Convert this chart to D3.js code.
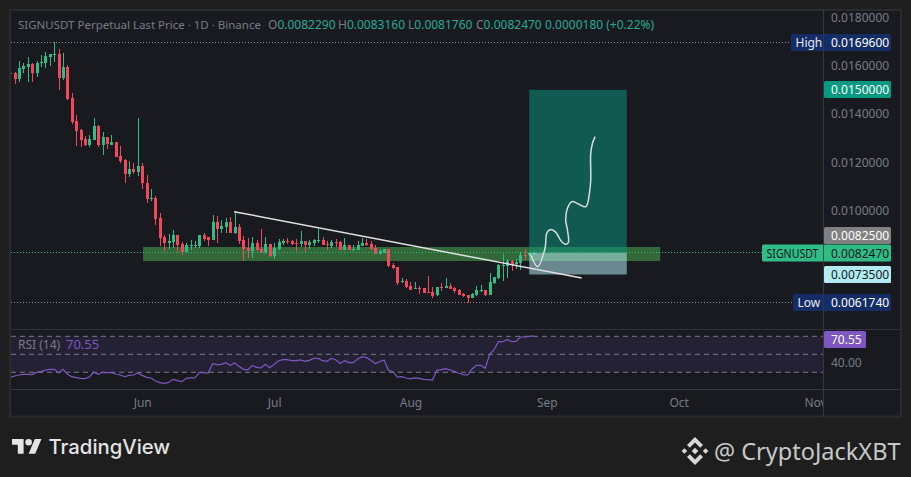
<!DOCTYPE html>
<html lang="en">
  <head>
    <meta charset="UTF-8" />
    <title>SIGNUSDT Perpetual</title>
    <style>
      html, body { margin: 0; padding: 0; background: #1e1e1e; overflow: hidden; }
      svg { display: block; }
      text { font-family: "Noto Sans", sans-serif; }
    </style>
    <script src="https://d3js.org/d3.v7.min.js"></script>
  </head>
  <body>
    <div id="chart"></div>
    <script>
      // Daily candles, first one is May 2
      const firstDay = new Date(2025, 4, 2);
      const opens = [0.015632,0.015706,0.015458,0.015847,0.015942,0.016079,0.015694,0.016108,0.016108,0.016356,0.016439,0.016481,0.015487,0.015942,0.014659,0.013707,0.013334,0.012961,0.012713,0.012920,0.013500,0.012713,0.013044,0.012713,0.012837,0.012257,0.012091,0.011511,0.011718,0.011594,
        0.011843,0.011139,0.010476,0.010518,0.009690,0.008903,0.008655,0.008696,0.008986,0.008613,0.008281,0.008530,0.008530,0.008530,0.008986,0.008903,0.008779,0.009524,0.009235,0.009317,0.009524,0.009069,0.009317,0.008779,0.008447,0.008323,0.008655,0.008406,0.008281,0.008613,
        0.008116,0.008406,0.008655,0.008738,0.008738,0.008655,0.008613,0.008738,0.008572,0.008655,0.008738,0.008779,0.008613,0.008530,0.008696,0.008696,0.008364,0.008572,0.008364,0.008364,0.008530,0.008655,0.008613,0.008447,0.008199,0.008240,0.008406,0.007743,0.007660,0.007039,
        0.007081,0.006874,0.006750,0.006791,0.006791,0.006625,0.006625,0.006501,0.006833,0.006791,0.006874,0.006791,0.006708,0.006543,0.006501,0.006377,0.006501,0.006667,0.006708,0.006501,0.006998,0.007205,0.007702,0.007702,0.007909,0.007785,0.007826,0.008157,0.008157,0.008229];
      const highs = [0.015777,0.015748,0.016191,0.016120,0.016356,0.016120,0.016191,0.016439,0.016563,0.016481,0.016978,0.016688,0.016522,0.016025,0.014866,0.013955,0.013375,0.013086,0.013127,0.013831,0.013541,0.013251,0.013044,0.013127,0.012837,0.012672,0.012132,0.012050,0.011967,0.013831,
        0.011967,0.011470,0.010890,0.010601,0.009897,0.008986,0.009027,0.009193,0.008986,0.008696,0.008655,0.008779,0.008738,0.008986,0.009069,0.008903,0.009814,0.009772,0.009607,0.009690,0.009731,0.009980,0.009441,0.008944,0.008862,0.008903,0.008779,0.009235,0.008903,0.008613,
        0.008655,0.008820,0.008820,0.008862,0.008779,0.008820,0.009152,0.008738,0.008779,0.008820,0.009235,0.008903,0.008738,0.008779,0.008820,0.008738,0.008862,0.008572,0.008572,0.008738,0.008862,0.008820,0.008738,0.008572,0.008406,0.008406,0.008406,0.007826,0.007660,0.007205,
        0.007163,0.007039,0.007039,0.006874,0.006791,0.007287,0.006833,0.006833,0.006998,0.007205,0.006998,0.006833,0.006750,0.006584,0.006501,0.006584,0.006874,0.006915,0.006708,0.007412,0.007246,0.007785,0.008199,0.007992,0.007950,0.007992,0.008281,0.008406,0.008281,0.008316];
      const lows = [0.015487,0.015238,0.015321,0.015694,0.015321,0.015321,0.015528,0.015942,0.015901,0.015984,0.016149,0.014990,0.015404,0.014576,0.013582,0.012672,0.012630,0.012672,0.012630,0.012920,0.012630,0.012298,0.012547,0.012713,0.012215,0.011967,0.011139,0.011387,0.011511,0.011429,
        0.010890,0.010311,0.010394,0.009400,0.008530,0.008323,0.008406,0.008447,0.008281,0.008157,0.008281,0.008364,0.008447,0.008447,0.008738,0.008530,0.008779,0.008655,0.009069,0.009069,0.009069,0.009027,0.008613,0.007909,0.008033,0.008033,0.008323,0.008240,0.008199,0.008074,
        0.007992,0.008364,0.008572,0.008613,0.008572,0.008323,0.008489,0.008281,0.008406,0.008530,0.008655,0.008572,0.008364,0.008447,0.008489,0.008364,0.008364,0.008364,0.008323,0.008364,0.008530,0.008530,0.008364,0.008199,0.008199,0.008240,0.007660,0.007577,0.006915,0.006998,
        0.006791,0.006708,0.006750,0.006543,0.006584,0.006584,0.006377,0.006460,0.006667,0.006791,0.006750,0.006584,0.006501,0.006418,0.006174,0.006377,0.006460,0.006625,0.006460,0.006501,0.006957,0.007163,0.007081,0.007205,0.007495,0.007577,0.007536,0.007950,0.008116,0.008176];
      const closes = [0.015673,0.015445,0.015901,0.015984,0.016079,0.015694,0.016108,0.016137,0.016398,0.016481,0.016481,0.015487,0.015942,0.014617,0.013665,0.013293,0.012920,0.012713,0.012961,0.013500,0.012713,0.013044,0.012754,0.012837,0.012215,0.012050,0.011511,0.011718,0.011594,0.011843,
        0.011139,0.010476,0.010518,0.009648,0.008862,0.008655,0.008738,0.008986,0.008572,0.008281,0.008572,0.008572,0.008572,0.008986,0.008820,0.008779,0.009524,0.009235,0.009359,0.009524,0.009069,0.009317,0.008738,0.008406,0.008323,0.008655,0.008364,0.008281,0.008613,0.008116,
        0.008447,0.008696,0.008738,0.008696,0.008613,0.008634,0.008738,0.008572,0.008696,0.008779,0.008779,0.008572,0.008584,0.008696,0.008655,0.008364,0.008572,0.008364,0.008406,0.008572,0.008655,0.008572,0.008406,0.008199,0.008323,0.008406,0.007702,0.007619,0.006998,0.007081,
        0.006833,0.006708,0.006791,0.006750,0.006584,0.006605,0.006460,0.006833,0.006791,0.006874,0.006750,0.006667,0.006501,0.006460,0.006377,0.006543,0.006708,0.006708,0.006501,0.007039,0.007246,0.007743,0.007743,0.007909,0.007743,0.007867,0.008157,0.008145,0.008229,0.008247];
      const rsiValues = [24.4,25.9,27.0,27.7,27.7,27.4,30.0,30.7,32.6,33.3,33.3,29.6,33.3,27.7,25.1,24.0,23.3,22.9,25.1,30.0,27.7,30.0,29.6,29.6,28.1,27.0,25.1,26.6,27.0,29.2,
        26.6,24.4,23.7,20.3,18.5,17.7,18.8,22.2,20.7,19.6,23.3,23.7,23.7,30.0,29.6,29.2,39.6,38.5,38.8,40.7,37.7,40.3,36.6,33.3,32.6,37.4,35.5,34.8,38.8,35.1,
        38.8,42.9,44.0,44.0,42.9,42.9,43.7,42.2,43.3,45.5,45.5,42.9,42.2,45.5,44.0,40.0,42.9,40.7,40.7,44.8,47.4,46.3,43.3,39.6,41.8,43.7,32.2,30.7,24.8,25.1,
        23.7,22.6,23.7,23.3,22.2,21.8,21.4,32.2,32.9,34.0,32.6,30.7,28.9,27.4,27.0,33.7,37.7,37.7,34.4,50.0,54.8,64.0,64.0,66.3,64.0,64.4,69.2,69.2,70.0,70.55];

      // Axis ticks
      const priceTicks = [0.018, 0.016, 0.014, 0.012, 0.01];
      const monthTicks = [new Date(2025, 5, 1), new Date(2025, 6, 1), new Date(2025, 7, 1), new Date(2025, 8, 1), new Date(2025, 9, 1), new Date(2025, 10, 1)];
      const rsiBands = [70, 50, 30];

      // Price levels
      const lastPrice = 0.008247, highPrice = 0.01696, lowPrice = 0.006174;
      const target = 0.015, entry = 0.00825, stop = 0.00735;
      const rsiLast = 70.55;

      // Drawings, x given in days after firstDay
      const zoneDays = [30.2, 147.8], zonePrices = [0.008489, 0.007909];
      const boxDays = [118, 140.2];
      const trendDays = [50.9, 129.95], trendPrices = [0.009951, 0.007205];
      const pathDays = [118.4,119.9,121.6,122.0,122.7,123.9,125.4,126.2,126.9,126.7,126.3,126.7,127.7,129.2,130.9,131.7,132.0,132.0,132.4,133.0];
      const pathPrices = [0.008157,0.007673,0.008434,0.009056,0.009205,0.009123,0.008709,0.008601,0.008667,0.009193,0.009607,0.010091,0.010365,0.010269,0.010158,0.010712,0.011263,0.012368,0.012783,0.013057];

      const legendTitle = "SIGNUSDT Perpetual Last Price · 1D · Binance";
      const legendOhlc = [
        ["O", "0.0082290", 268],
        ["H", "0.0083160", 338],
        ["L", "0.0081760", 408],
        ["C", "0.0082470", 476],
      ];

      const width = 911, height = 477;
      const plotLeft = 11, plotRight = 823, plotTop = 10, paneY = 329.5, timeY = 389.5, frameRight = 901, frameBottom = 416.5;
      const upColor = "#2ebd85", downColor = "#f6465d", gray = "#787b86", navy = "#142d66", purple = "#7e57c2";

      const x = d3.scaleTime().domain([firstDay, new Date(2025, 10, 1)]).range([10.3, 815]);
      const y = d3.scaleLinear().domain([0.018, 0.01]).range([17.3, 210.5]);
      const yRsi = d3.scaleLinear().domain([30, 70]).range([372.3, 336.3]);
      const xDay = (d) => x(new Date(firstDay.getTime() + d * 864e5));

      const svg = d3.select("#chart").append("svg").attr("width", width).attr("height", height);

      // frame and panes
      svg.append("rect").attr("x", 10).attr("y", 10).attr("width", frameRight - 10).attr("height", frameBottom - 10)
        .attr("fill", "#181a20").attr("stroke", "#2a2b2e").attr("stroke-width", 2);

      const defs = svg.append("defs");
      defs.append("clipPath").attr("id", "main").append("rect").attr("x", plotLeft).attr("y", plotTop).attr("width", plotRight - plotLeft).attr("height", paneY - plotTop);
      defs.append("clipPath").attr("id", "rsi").append("rect").attr("x", plotLeft).attr("y", paneY).attr("width", plotRight - plotLeft).attr("height", timeY - paneY);
      defs.append("clipPath").attr("id", "time").append("rect").attr("x", plotLeft).attr("y", timeY).attr("width", plotRight - plotLeft).attr("height", frameBottom - timeY);

      const main = svg.append("g").attr("clip-path", "url(#main)");

      // support zone sits under the candles
      main.append("rect")
        .attr("x", xDay(zoneDays[0])).attr("width", xDay(zoneDays[1]) - xDay(zoneDays[0]))
        .attr("y", y(zonePrices[0])).attr("height", y(zonePrices[1]) - y(zonePrices[0]))
        .attr("fill", "#4caf50").attr("fill-opacity", 0.53);

      // dotted high / low lines
      [[highPrice, 790], [lowPrice, 793]].forEach(([p, end]) => {
        main.append("line").attr("x1", plotLeft).attr("x2", end).attr("y1", Math.floor(y(p)) + 0.5).attr("y2", Math.floor(y(p)) + 0.5)
          .attr("stroke", "#8a8d96").attr("stroke-dasharray", "1 2");
      });

      // candles
      const candles = d3.range(opens.length);
      const candle = main.append("g").attr("shape-rendering", "crispEdges").selectAll("g").data(candles).join("g")
        .attr("fill", (i) => (closes[i] >= opens[i] ? upColor : downColor));
      candle.append("rect")
        .attr("x", (i) => Math.round(xDay(i)))
        .attr("width", 1)
        .attr("y", (i) => y(highs[i]))
        .attr("height", (i) => y(lows[i]) - y(highs[i]));
      candle.append("rect")
        .attr("x", (i) => Math.round(xDay(i)) - 1)
        .attr("width", 3)
        .attr("y", (i) => y(Math.max(opens[i], closes[i])))
        .attr("height", (i) => Math.max(1, Math.abs(y(opens[i]) - y(closes[i]))));

      // last price line
      main.append("line").attr("x1", plotLeft).attr("x2", 762).attr("y1", Math.floor(y(lastPrice)) + 0.5).attr("y2", Math.floor(y(lastPrice)) + 0.5)
        .attr("stroke", upColor).attr("stroke-dasharray", "1 2");

      // long position box
      const boxLeft = xDay(boxDays[0]), boxW = xDay(boxDays[1]) - boxLeft;
      main.append("rect").attr("x", boxLeft).attr("width", boxW).attr("y", y(target)).attr("height", y(entry) - y(target))
        .attr("fill", "#089981").attr("fill-opacity", 0.5);
      main.append("rect").attr("x", boxLeft).attr("width", boxW).attr("y", y(entry)).attr("height", y(stop) - y(entry))
        .attr("fill", "#b2ebf2").attr("fill-opacity", 0.53);

      // trend line and projected path
      main.append("line")
        .attr("x1", xDay(trendDays[0])).attr("y1", y(trendPrices[0]))
        .attr("x2", xDay(trendDays[1])).attr("y2", y(trendPrices[1]))
        .attr("stroke", "#e0e0e2").attr("stroke-width", 1.5);
      const pathLine = d3.line().x((d) => xDay(d)).y((d, i) => y(pathPrices[i])).curve(d3.curveCatmullRom.alpha(0.5));
      main.append("path").attr("d", pathLine(pathDays)).attr("fill", "none").attr("stroke", "#d8dcdc").attr("stroke-width", 1.5);

      // legend
      svg.append("text").attr("x", 18).attr("y", 29).attr("font-size", 11.5).attr("fill", gray).text(legendTitle);
      legendOhlc.forEach(([k, v, px]) => {
        const t = svg.append("text").attr("x", px).attr("y", 29).attr("font-size", 12);
        t.append("tspan").attr("fill", gray).text(k);
        t.append("tspan").attr("fill", "#22ab94").text(v);
      });
      svg.append("text").attr("x", 545).attr("y", 29).attr("font-size", 12).attr("fill", "#22ab94").text("0.0000180 (+0.22%)");

      // RSI pane
      const rsiPane = svg.append("g").attr("clip-path", "url(#rsi)");
      rsiPane.append("rect").attr("x", plotLeft).attr("width", plotRight - plotLeft).attr("y", yRsi(70)).attr("height", yRsi(30) - yRsi(70))
        .attr("fill", purple).attr("fill-opacity", 0.12);
      rsiPane.selectAll("line").data(rsiBands).join("line")
        .attr("x1", plotLeft).attr("x2", plotRight).attr("y1", (d) => yRsi(d)).attr("y2", (d) => yRsi(d))
        .attr("stroke", "#787b86").attr("stroke-dasharray", "5 4");
      const rsiLine = d3.line().x((d, i) => xDay(i)).y((d) => yRsi(d));
      rsiPane.append("path").attr("d", rsiLine(rsiValues)).attr("fill", "none").attr("stroke", purple).attr("stroke-width", 1.2);
      svg.append("text").attr("x", 18).attr("y", 349).attr("font-size", 12).attr("fill", gray).text("RSI (14)");
      svg.append("text").attr("x", 66).attr("y", 349).attr("font-size", 13).attr("fill", purple).text(rsiLast.toFixed(2));

      // separators
      const sep = "#2f323c";
      svg.append("line").attr("x1", 11).attr("x2", frameRight).attr("y1", paneY).attr("y2", paneY).attr("stroke", sep);
      svg.append("line").attr("x1", 11).attr("x2", frameRight).attr("y1", timeY).attr("y2", timeY).attr("stroke", "#343845");
      svg.append("line").attr("x1", plotRight + 0.5).attr("x2", plotRight + 0.5).attr("y1", 10).attr("y2", frameBottom).attr("stroke", "#343845");

      // axes
      const priceAxis = svg.append("g").attr("transform", `translate(${plotRight + 1},0)`)
        .call(d3.axisRight(y).tickValues(priceTicks).tickFormat(d3.format(".7f")).tickSize(0).tickPadding(7));
      priceAxis.select(".domain").remove();
      priceAxis.selectAll("text").attr("fill", gray).attr("font-size", 12).attr("font-family", null);

      const rsiAxis = svg.append("g").attr("transform", `translate(${plotRight + 1},-1)`)
        .call(d3.axisRight(yRsi).tickValues([40]).tickFormat(d3.format(".2f")).tickSize(0).tickPadding(7));
      rsiAxis.select(".domain").remove();
      rsiAxis.selectAll("text").attr("fill", gray).attr("font-size", 12).attr("font-family", null);

      const timeAxis = svg.append("g").attr("clip-path", "url(#time)").append("g").attr("transform", `translate(0,${timeY})`)
        .call(d3.axisBottom(x).tickValues(monthTicks).tickFormat(d3.timeFormat("%b")).tickSize(0).tickPadding(9));
      timeAxis.select(".domain").remove();
      timeAxis.selectAll("text").attr("fill", gray).attr("font-size", 12).attr("font-family", null);

      // price labels on the axis, moved apart the way the chart does it
      const labels = [
        { top: 227, left: 824, fill: "#808080", color: "#fff", value: entry },
        { top: 81, left: 824, fill: "#089981", color: "#fff", value: target },
        { top: 266, left: 824, fill: "#b2ebf2", color: "#131722", value: stop },
        { top: 34, left: 791, fill: navy, color: "#fff", value: highPrice, name: "High" },
        { top: 294, left: 793, fill: navy, color: "#fff", value: lowPrice, name: "Low" },
        { top: 244.5, left: 762, fill: upColor, color: "#131722", value: lastPrice, name: "SIGNUSDT", nameWidth: 52 },
      ];
      labels.forEach((l) => {
        svg.append("rect").attr("x", l.left).attr("y", l.top).attr("width", 891 - l.left).attr("height", 17).attr("rx", 1.5).attr("fill", l.fill);
        svg.append("text").attr("x", 831).attr("y", l.top + 13).attr("font-size", 12).attr("fill", l.color).text(d3.format(".7f")(l.value));
        if (l.name) {
          const t = svg.append("text").attr("x", l.left + 4.5).attr("y", l.top + 13).attr("font-size", 12).attr("fill", l.color === "#fff" ? "#e8e8ee" : l.color).text(l.name);
          if (l.nameWidth) t.attr("textLength", l.nameWidth).attr("lengthAdjust", "spacingAndGlyphs");
        }
      });
      svg.append("line").attr("x1", plotRight + 0.5).attr("x2", plotRight + 0.5).attr("y1", 34).attr("y2", 311).attr("stroke", "#343845").attr("stroke-opacity", 0.8);
      svg.append("rect").attr("x", 824).attr("y", 331).attr("width", 42).attr("height", 17).attr("rx", 1.5).attr("fill", purple);
      svg.append("text").attr("x", 831).attr("y", 344).attr("font-size", 12).attr("fill", "#fff").text(rsiLast.toFixed(2));

      // footer branding
      const tv = svg.append("g").attr("transform", "translate(12,435.6) scale(0.83)").attr("fill", "#e4e4e4");
      tv.append("path").attr("d", "M14 22H7V11H0V4h14v18zM28 22h-8l7.5-18h8L28 22z");
      tv.append("circle").attr("cx", 20).attr("cy", 8).attr("r", 4);
      svg.append("text").attr("x", 48.5).attr("y", 454).attr("font-size", 20.3).attr("font-weight", 500).style("font-family", "Inter").attr("fill", "#e4e4e4").text("TradingView");

      const bn = svg.append("g").attr("transform", "translate(695,451)").attr("fill", "#d8d8d8");
      bn.append("path").attr("d", "M0-14L8-6 5.2-3.2 0-8.4-5.2-3.2-8-6ZM0 14L8 6 5.2 3.2 0 8.4-5.2 3.2-8 6ZM0-3.3L3.3 0 0 3.3-3.3 0ZM-10.6-2.8L-7.8 0-10.6 2.8-13.4 0ZM10.6-2.8L13.4 0 10.6 2.8 7.8 0Z");
      svg.append("text").attr("x", 714).attr("y", 460).attr("font-size", 23.5).attr("fill", "#c8c8c8").text("@ CryptoJackXBT");
    </script>
  </body>
</html>
